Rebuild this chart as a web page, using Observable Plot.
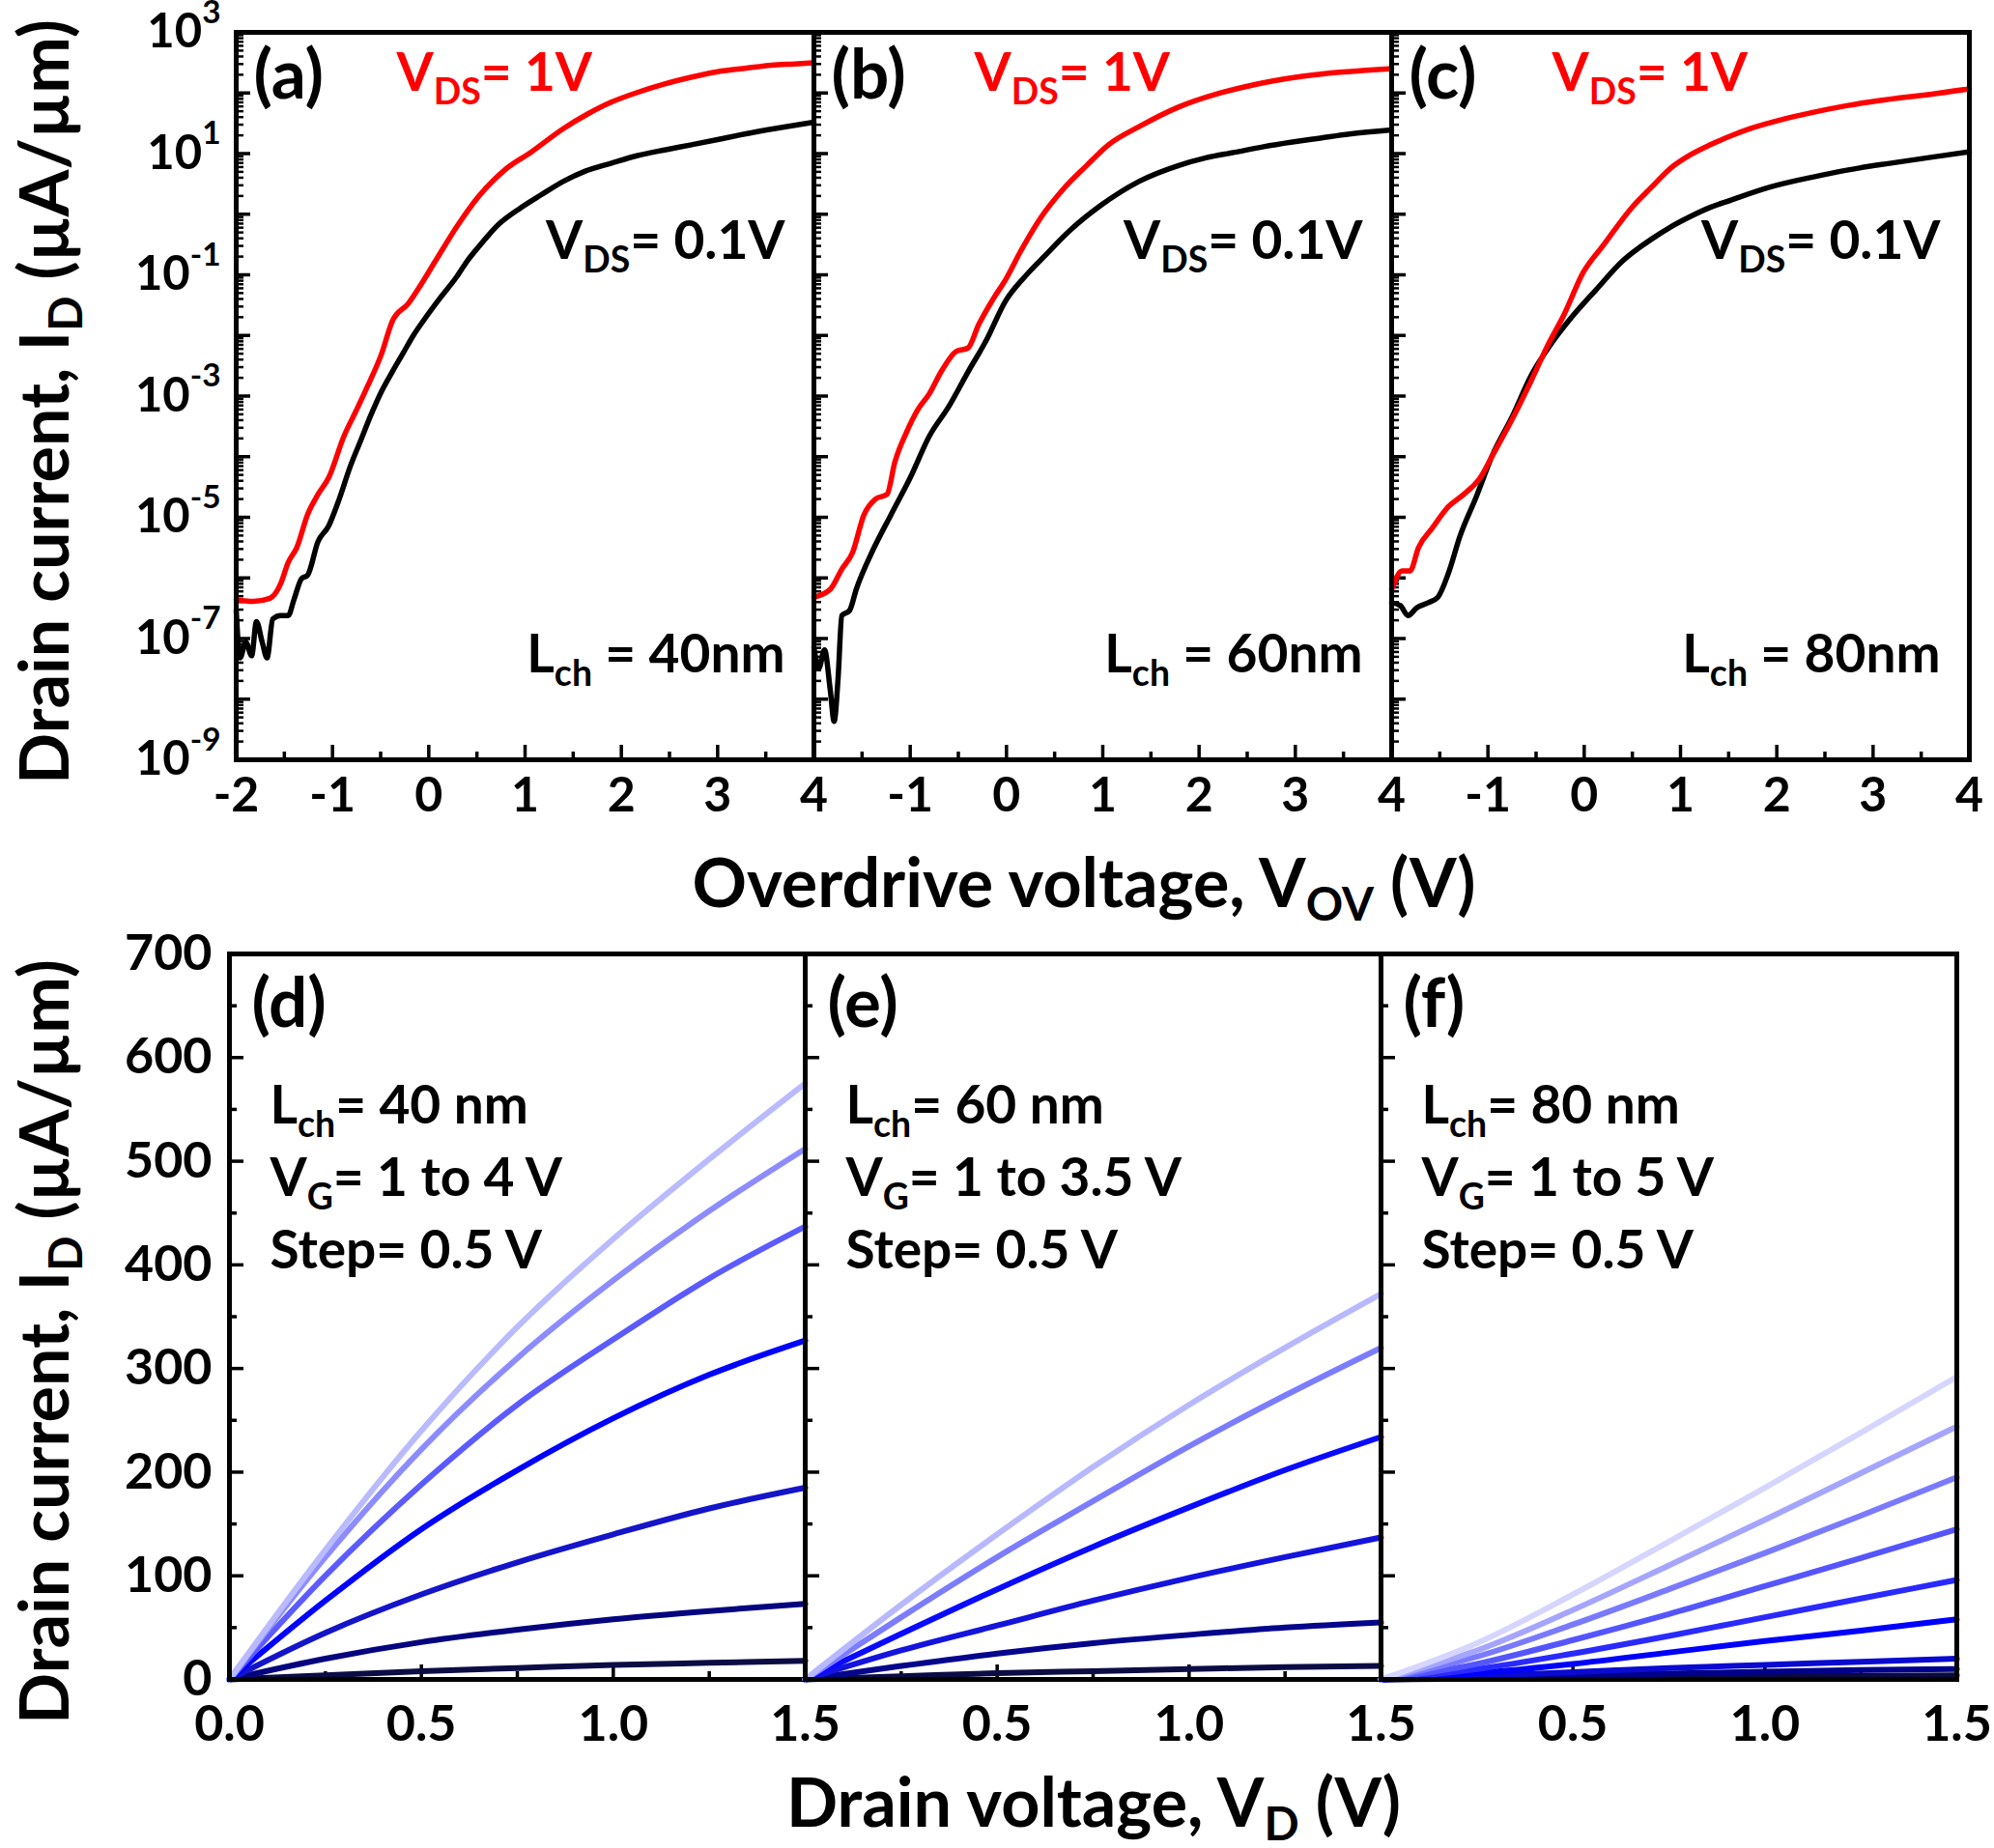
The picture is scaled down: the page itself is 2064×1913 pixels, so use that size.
<!DOCTYPE html>
<html>
<head>
<meta charset="utf-8">
<script src="https://cdn.jsdelivr.net/npm/d3@7"></script>
<script src="https://cdn.jsdelivr.net/npm/@observablehq/plot@0.6"></script>
<style>
  body { margin: 0; background: #fff; }
  #fig { position: relative; width: 2064px; height: 1913px; background: #fff; overflow: hidden;
         font-family: Lato, "DejaVu Sans", sans-serif; font-weight: 700; color: #000; }
  .title { position: absolute; font-size: 70px; line-height: 1; white-space: nowrap; }
  .title sub { font-size: 0.68em; position: relative; top: 0.3em; vertical-align: baseline; line-height: 0; }
</style>
</head>
<body>
<div id="fig"></div>
<script>
// ---------- Transfer curves: I_D (µA/µm) vs overdrive voltage V_OV (V) ----------
const tfA_1V = [[-2.00,4.4e-7],[-1.82,4.1e-7],[-1.65,4.6e-7],[-1.54,7.9e-7],[-1.46,1.8e-6],[-1.37,3.2e-6],[-1.26,1.1e-5],[-1.15,2.4e-5],[-1.04,4.5e-5],[-0.88,2.2e-4],[-0.76,5.5e-4],[-0.65,1.3e-3],[-0.49,5.0e-3],[-0.38,1.7e-2],[-0.21,3.4e-2],[-0.10,6.2e-2],[0.07,0.17],[0.29,0.62],[0.51,1.9],[0.79,5.4],[1.06,10.5],[1.40,26],[1.65,45],[1.90,71],[2.15,100],[2.45,141],[2.70,178],[3.00,224],[3.30,257],[3.56,288],[3.80,302],[4.00,316]];
const tfA_01V = [[-2.00,2.9e-7],[-1.96,4.8e-8],[-1.90,8.7e-8],[-1.84,5.2e-8],[-1.79,1.9e-7],[-1.73,8.7e-8],[-1.68,4.8e-8],[-1.62,2.1e-7],[-1.54,2.4e-7],[-1.46,2.4e-7],[-1.40,4.4e-7],[-1.32,9.8e-7],[-1.26,1.1e-6],[-1.15,4.0e-6],[-1.04,7.2e-6],[-0.93,2.0e-5],[-0.82,6.6e-5],[-0.71,1.8e-4],[-0.60,4.9e-4],[-0.49,1.2e-3],[-0.38,2.5e-3],[-0.27,5.0e-3],[-0.16,1.0e-2],[-0.04,1.9e-2],[0.12,4.2e-2],[0.29,9.3e-2],[0.40,0.17],[0.51,0.28],[0.73,0.69],[0.95,1.26],[1.17,2.1],[1.40,3.5],[1.62,5.1],[1.89,6.9],[2.17,9.3],[2.45,11.5],[2.73,14],[3.00,17],[3.28,21],[3.60,26],[4.00,33]];

const tfB_1V = [[-2.00,4.8e-7],[-1.83,6.5e-7],[-1.71,1.4e-6],[-1.60,2.6e-6],[-1.48,1.1e-5],[-1.36,2.0e-5],[-1.24,2.4e-5],[-1.16,8.1e-5],[-1.04,2.5e-4],[-0.92,6.0e-4],[-0.80,1.1e-3],[-0.68,2.5e-3],[-0.52,5.5e-3],[-0.40,6.2e-3],[-0.29,1.5e-2],[-0.13,4.2e-2],[-0.01,8.3e-2],[0.15,0.25],[0.35,0.85],[0.59,2.6],[0.83,6.3],[1.06,14],[1.38,28],[1.78,58],[2.17,95],[2.47,126],[2.77,158],[3.07,188],[3.37,214],[3.70,235],[4.00,251]];
const tfB_01V = [[-2.00,7.1e-8],[-1.95,3.2e-8],[-1.89,6.5e-8],[-1.83,1.4e-8],[-1.79,4.3e-9],[-1.75,2.1e-8],[-1.71,2.4e-7],[-1.63,2.9e-7],[-1.56,6.5e-7],[-1.40,2.6e-6],[-1.20,1.1e-5],[-1.00,4.5e-5],[-0.80,2.2e-4],[-0.60,6.7e-4],[-0.40,2.5e-3],[-0.21,8.3e-3],[-0.01,3.7e-2],[0.19,9.3e-2],[0.39,0.20],[0.67,0.56],[0.98,1.4],[1.38,3.5],[1.78,6.3],[2.07,8.5],[2.37,10.5],[2.67,13],[2.97,15.5],[3.26,18],[3.56,21],[4.00,24.5]];

const tfC_1V = [[-2.00,6.5e-7],[-1.89,1.3e-6],[-1.81,1.3e-6],[-1.72,3.2e-6],[-1.58,6.6e-6],[-1.41,1.5e-5],[-1.25,2.4e-5],[-1.08,4.5e-5],[-0.96,1.0e-4],[-0.75,4.1e-4],[-0.55,1.8e-3],[-0.38,6.8e-3],[-0.21,2.2e-2],[-0.01,0.11],[0.20,0.31],[0.49,1.26],[0.70,2.8],[0.90,5.8],[1.10,9.5],[1.31,14],[1.52,19.5],[1.73,26],[2.04,36],[2.35,47],[2.66,59],[2.97,71],[3.28,83],[3.59,95],[4.00,117]];
const tfC_01V = [[-2.00,3.9e-7],[-1.91,3.5e-7],[-1.83,2.4e-7],[-1.74,3.2e-7],[-1.62,3.9e-7],[-1.52,4.8e-7],[-1.41,1.2e-6],[-1.29,4.9e-6],[-1.12,2.2e-5],[-0.96,1.0e-4],[-0.75,4.5e-4],[-0.55,2.2e-3],[-0.34,7.4e-3],[-0.13,2.0e-2],[0.12,5.6e-2],[0.40,0.17],[0.69,0.38],[0.90,0.62],[1.11,0.93],[1.31,1.3],[1.52,1.7],[1.93,2.8],[2.24,3.7],[2.55,4.7],[2.86,5.8],[3.17,6.9],[3.58,8.6],[4.00,10.7]];

// ---------- Output curves: I_D (µA/µm) vs drain voltage V_D (V) ----------
const vd = [0, 0.25, 0.5, 0.75, 1.0, 1.25, 1.5];
// L_ch = 40 nm, V_G = 1 ... 4 V
const outD = [
  [0, 4, 8, 11, 14, 16, 18],
  [0, 20, 36, 48, 58, 66, 73],
  [0, 45, 82, 113, 140, 165, 185],
  [0, 76, 145, 202, 252, 294, 327],
  [0, 100, 188, 265, 328, 387, 437],
  [0, 118, 222, 310, 385, 452, 512],
  [0, 125, 240, 340, 425, 502, 575]
];
// L_ch = 60 nm, V_G = 1 ... 3.5 V
const outE = [
  [0, 3, 6, 8, 10, 12, 13],
  [0, 13, 25, 35, 43, 50, 55],
  [0, 28, 52, 76, 98, 118, 137],
  [0, 44, 87, 128, 166, 202, 234],
  [0, 60, 118, 172, 225, 274, 320],
  [0, 72, 140, 205, 265, 320, 372]
];
// L_ch = 80 nm, V_G = 1 ... 5 V
const outF = [
  [0, 0.7, 1.5, 2.3, 3, 3.5, 4],
  [0, 1.5, 3.5, 5.5, 7.5, 9, 10],
  [0, 3, 7, 11, 14, 17, 20],
  [0, 6, 15, 26, 37, 47, 58],
  [0, 10, 25, 42, 60, 78, 96],
  [0, 15, 38, 63, 90, 117, 145],
  [0, 22, 53, 87, 122, 158, 195],
  [0, 28, 67, 110, 154, 199, 244],
  [0, 35, 82, 133, 185, 238, 292]
];
const colorsD = ["#0c0c45", "#05057f", "#1414c8", "#0000ff", "#5b5bff", "#8c8cff", "#babaff"];
const colorsE = ["#0c0c45", "#06068c", "#1414dc", "#0a0aff", "#7c7cff", "#b8b8ff"];
const colorsF = ["#0a0a40", "#00008a", "#0a0ad0", "#0000ff", "#2a2aff", "#5555ff", "#7a7aff", "#a5a5ff", "#d5d5ff"];

// ---------- Tick values and labels ----------
const logDecades = [1e-9, 1e-8, 1e-7, 1e-6, 1e-5, 1e-4, 1e-3, 1e-2, 1e-1, 1, 1e1, 1e2, 1e3];
const logLabels = [1e-9, 1e-7, 1e-5, 1e-3, 1e-1, 1e1, 1e3];
const logMinor = [];
for (const d of logDecades.slice(0, -1)) for (let m = 2; m <= 9; m++) logMinor.push(m * d);
const vovMajor = [-2, -1, 0, 1, 2, 3, 4];
const vovMinor = [-1.5, -0.5, 0.5, 1.5, 2.5, 3.5];
const idMajor = [0, 100, 200, 300, 400, 500, 600, 700];
const idMinor = [50, 150, 250, 350, 450, 550, 650];
const vdMajor = [0, 0.5, 1.0, 1.5];
const vdMinor = [0.25, 0.75, 1.25];

const fig = document.getElementById("fig");
const FONT = "Lato, 'DejaVu Sans', sans-serif";
const baseStyle = {fontFamily: FONT, fontWeight: 700, color: "#000", background: "transparent", overflow: "visible", maxWidth: "none"};

function place(svg, left, top) {
  svg.style.position = "absolute";
  svg.style.left = left + "px";
  svg.style.top = top + "px";
  fig.appendChild(svg);
  richText(svg);
}

// Rewrites "x_{sub}" and "x^{sup}" in SVG text as shifted tspans
const SVGNS = "http://www.w3.org/2000/svg";
function richText(root) {
  root.querySelectorAll("text").forEach(el => {
    if (el.children.length) return;
    const s = el.textContent;
    if (!/[_^]\{/.test(s)) return;
    const fs = parseFloat(getComputedStyle(el).fontSize);
    el.textContent = "";
    let shift = 0;
    for (const p of s.split(/([_^]\{[^}]*\})/).filter(Boolean)) {
      const m = p.match(/^([_^])\{([^}]*)\}$/);
      const t = document.createElementNS(SVGNS, "tspan");
      let target = 0;
      if (m) {
        target = m[1] === "_" ? 0.25 * fs : -0.52 * fs;
        t.setAttribute("font-size", (0.68 * fs).toFixed(1));
        t.textContent = m[2];
      } else {
        t.textContent = p;
      }
      t.setAttribute("dy", (target - shift).toFixed(1));
      shift = target;
      el.appendChild(t);
    }
  });
}

function note(text, opts) {
  return Plot.text([text], {text: d => d, lineAnchor: "middle", fontSize: 55, ...opts});
}

// ---------- Top row: transfer characteristics ----------
const TW = 598, TH = 753, TTOP = 33, TM = 10, TB = 90;
function transferPanel({frameLeft, hi, lo, withY, xLabels, tag, lch}) {
  const mL = withY ? 200 : 0;
  const svg = Plot.plot({
    width: mL + TW, height: TM + TH + TB,
    marginLeft: mL, marginRight: 0, marginTop: TM, marginBottom: TB,
    x: {domain: [-2, 4], axis: null},
    y: {type: "log", domain: [1e-9, 1e3], axis: null},
    style: baseStyle,
    marks: [
      Plot.tickY(logDecades, {insetRight: TW - 15, strokeWidth: 3.5}),
      Plot.tickY(logMinor, {insetRight: TW - 8, strokeWidth: 2.5}),
      Plot.tickX(vovMajor, {insetTop: TH - 15, strokeWidth: 3.5}),
      Plot.tickX(vovMinor, {insetTop: TH - 8, strokeWidth: 3.5}),
      Plot.line(lo, {stroke: "#000", strokeWidth: 5.5, curve: "monotone-x"}),
      Plot.line(hi, {stroke: "#ff0000", strokeWidth: 5.5, curve: "monotone-x"}),
      Plot.frame({stroke: "#000", strokeWidth: 5}),
      Plot.axisX({ticks: xLabels, tickSize: 0, tickPadding: 18, fontSize: 50, label: null, tickFormat: d => String(d)}),
      withY ? Plot.axisY({ticks: logLabels, tickSize: 0, tickPadding: 16, fontSize: 49, label: null,
                          tickFormat: d => `10^{${Math.round(Math.log10(d))}}`}) : null,
      note(tag, {frameAnchor: "top-left", dx: 18, dy: 46, fontSize: 71, textAnchor: "start"}),
      note("V_{DS}= 1V", {frameAnchor: "top-left", dx: 166, dy: 43, textAnchor: "start", fill: "#ff0000"}),
      note("V_{DS}= 0.1V", {frameAnchor: "top-right", dx: -30, dy: 217, textAnchor: "end"}),
      note(`L_{ch} = ${lch}nm`, {frameAnchor: "top-right", dx: -30, dy: 645, textAnchor: "end"})
    ]
  });
  place(svg, frameLeft - mL, TTOP - TM);
}

transferPanel({frameLeft: 244, hi: tfA_1V, lo: tfA_01V, withY: true, xLabels: vovMajor, tag: "(a)", lch: 40});
transferPanel({frameLeft: 842, hi: tfB_1V, lo: tfB_01V, withY: false, xLabels: vovMajor.slice(1), tag: "(b)", lch: 60});
transferPanel({frameLeft: 1440, hi: tfC_1V, lo: tfC_01V, withY: false, xLabels: vovMajor.slice(1), tag: "(c)", lch: 80});

// ---------- Bottom row: output characteristics ----------
const BW = 596, BH = 751, BTOP = 987, BM = 10, BB = 100;
function outputPanel({frameLeft, curves, colors, withY, xLabels, tag, lines}) {
  const mL = withY ? 200 : 0;
  const series = curves.flatMap((c, k) => c.map((id, j) => ({vd: vd[j], id, k})));
  const svg = Plot.plot({
    width: mL + BW, height: BM + BH + BB,
    marginLeft: mL, marginRight: 0, marginTop: BM, marginBottom: BB,
    x: {domain: [0, 1.5], axis: null},
    y: {domain: [0, 700], axis: null},
    color: {type: "ordinal", domain: d3.range(curves.length), range: colors},
    style: baseStyle,
    marks: [
      Plot.tickY(idMajor, {insetRight: BW - 15, strokeWidth: 3.5}),
      Plot.tickY(idMinor, {insetRight: BW - 8, strokeWidth: 3.5}),
      Plot.tickX(vdMajor, {insetTop: BH - 15, strokeWidth: 3.5}),
      Plot.tickX(vdMinor, {insetTop: BH - 8, strokeWidth: 3.5}),
      Plot.line(series, {x: "vd", y: "id", z: "k", stroke: "k", strokeWidth: 6, curve: "monotone-x"}),
      Plot.frame({stroke: "#000", strokeWidth: 5}),
      Plot.axisX({ticks: xLabels, tickSize: 0, tickPadding: 27, fontSize: 52, label: null, tickFormat: d3.format(".1f")}),
      withY ? Plot.axisY({ticks: idMajor, tickSize: 0, tickPadding: 18, fontSize: 52, label: null, tickFormat: d => String(d)}) : null,
      note(tag, {frameAnchor: "top-left", dx: 23, dy: 53, fontSize: 71, textAnchor: "start"}),
      ...lines.map((t, i) => note(t, {frameAnchor: "top-left", dx: 42, dy: 158 + 75 * i, textAnchor: "start"}))
    ]
  });
  place(svg, frameLeft - mL, BTOP - BM);
}

outputPanel({frameLeft: 237, curves: outD, colors: colorsD, withY: true, xLabels: vdMajor, tag: "(d)",
  lines: ["L_{ch}= 40 nm", "V_{G}= 1 to 4 V", "Step= 0.5 V"]});
outputPanel({frameLeft: 833, curves: outE, colors: colorsE, withY: false, xLabels: vdMajor.slice(1), tag: "(e)",
  lines: ["L_{ch}= 60 nm", "V_{G}= 1 to 3.5 V", "Step= 0.5 V"]});
outputPanel({frameLeft: 1429, curves: outF, colors: colorsF, withY: false, xLabels: vdMajor.slice(1), tag: "(f)",
  lines: ["L_{ch}= 80 nm", "V_{G}= 1 to 5 V", "Step= 0.5 V"]});

// ---------- Shared axis titles ----------
function title(html, cx, cy, rotate) {
  const d = document.createElement("div");
  d.className = "title";
  d.innerHTML = html;
  d.style.left = cx + "px";
  d.style.top = cy + "px";
  d.style.transform = "translate(-50%, -50%)" + (rotate ? " rotate(-90deg)" : "");
  fig.appendChild(d);
}
title("Overdrive voltage, V<sub>OV</sub> (V)", 1122, 912, false);
title("Drain voltage, V<sub>D</sub> (V)", 1132, 1864, false);
title("Drain current, I<sub>D</sub> (µA/µm)", 44, 416, true);
title("Drain current, I<sub>D</sub> (µA/µm)", 44, 1389, true);
</script>
</body>
</html>
